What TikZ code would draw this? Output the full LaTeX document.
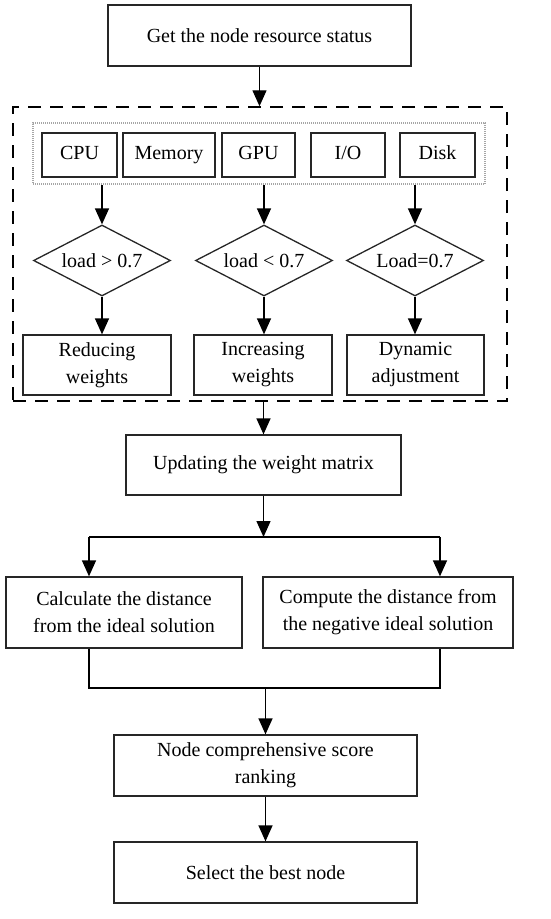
\documentclass[tikz,border=0pt]{standalone}
\usepackage{fontspec}
\setmainfont{Liberation Serif}
\usetikzlibrary{arrows.meta,shapes.geometric}
\begin{document}
\begin{tikzpicture}[x=1pt,y=-1pt,
  box/.style={draw=black!85,line width=1.3pt,fill=white,align=center,inner sep=0pt,
    font=\fontsize{20}{27}\selectfont},
  res/.style={box,text height=14pt,text depth=5pt,minimum height=44pt},
  dia/.style={draw=black!85,line width=1.3pt,shape=diamond,aspect=1.93,inner sep=0pt,
    minimum width=137pt,minimum height=71pt,font=\fontsize{20}{27}\selectfont},
  arr/.style={line width=1.4pt,-{Triangle[width=14pt,length=16pt]}},
  ln/.style={line width=1.4pt}]
\useasboundingbox (0,0) rectangle (550,919);
% outer groups
\node[draw=black,line width=1.5pt,dash pattern=on 13pt off 9pt,minimum width=494pt,minimum height=294pt,inner sep=0pt] (dash) at (260,254) {};
\node[draw=gray!70,line width=2pt,dash pattern=on 1pt off 1pt,minimum width=452pt,minimum height=61pt,inner sep=0pt] (dot) at (259,153.5) {};
% boxes
\node[box,minimum width=303pt,minimum height=61pt] (top) at (259.5,35.5) {Get the node resource status};
\node[res,minimum width=75pt] (cpu) at (79.5,155) {CPU};
\node[res,minimum width=92pt] (mem) at (169,155) {Memory};
\node[res,minimum width=73pt] (gpu) at (258.5,155) {GPU};
\node[res,minimum width=74pt] (io) at (348,155) {I/O};
\node[res,minimum width=75pt] (disk) at (437.5,155) {Disk};
\node[dia] (d1) at (102,260.5) {load > 0.7};
\node[dia] (d2) at (264,260.5) {load < 0.7};
\node[dia] (d3) at (415,260.5) {Load=0.7};
\node[box,minimum width=148pt,minimum height=60pt] (r1) at (97,365) {Reducing\\weights};
\node[box,minimum width=138pt,minimum height=60pt] (r2) at (263,365) {Increasing\\weights};
\node[box,minimum width=137pt,minimum height=60pt] (r3) at (415.5,365) {Dynamic\\adjustment};
\node[box,minimum width=275pt,minimum height=60pt] (upd) at (263.5,465) {Updating the weight matrix};
\node[box,minimum width=236pt,minimum height=71pt] (lft) at (124,612.5) {Calculate the distance\\from the ideal solution};
\node[box,minimum width=250pt,minimum height=71pt] (rgt) at (388,612.5) {Compute the distance from\\the negative ideal solution};
\node[box,minimum width=303pt,minimum height=61pt] (rank) at (265.5,765.5) {Node comprehensive score\\ranking};
\node[box,minimum width=303pt,minimum height=61pt] (best) at (265.5,872.5) {Select the best node};
% coordinates
\coordinate (sp) at (263.5,537);
\coordinate (spl) at (89,537);
\coordinate (spr) at (440,537);
\coordinate (jl) at (89,688);
\coordinate (jr) at (440,688);
\coordinate (jm) at (265.5,688);
% connectors
\draw[arr] (top.south) -- (top.south |- dash.north);
\draw[arr] (dot.south -| d1.north) -- (d1.north);
\draw[arr] (dot.south -| d2.north) -- (d2.north);
\draw[arr] (dot.south -| d3.north) -- (d3.north);
\draw[arr] (d1.south) -- (d1.south |- r1.north);
\draw[arr] (d2.south) -- (d2.south |- r2.north);
\draw[arr] (d3.south) -- (d3.south |- r3.north);
\draw[arr] (upd.north |- dash.south) -- (upd.north);
\draw[arr] (upd.south) -- (sp);
\draw[ln] (spl) -- (spr);
\draw[arr] (spl) -- (spl |- lft.north);
\draw[arr] (spr) -- (spr |- rgt.north);
\draw[ln] (jl |- lft.south) -- (jl) -- (jr) -- (jr |- rgt.south);
\draw[arr] (jm) -- (rank.north);
\draw[arr] (rank.south) -- (best.north);
\end{tikzpicture}
\end{document}
